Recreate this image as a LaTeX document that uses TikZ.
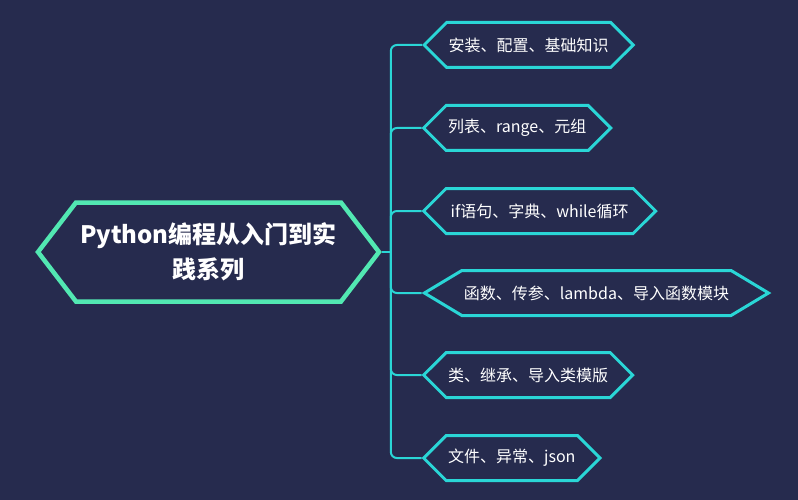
\documentclass[tikz,border=0pt]{standalone}
\usepackage{fontspec}
\usepackage{tikz}
\usetikzlibrary{shapes.symbols,positioning}
\newfontfamily\cjk{Noto Sans CJK SC}
\definecolor{navy}{RGB}{38,43,78}
\definecolor{mint}{RGB}{82,232,178}
\definecolor{aqua}{RGB}{42,214,214}

\begin{document}
\begin{tikzpicture}[x=1pt, y=-1pt,
    hexroot/.style={draw=mint, line width=4.5pt, fill=navy, shape=signal, signal to=west and east, signal pointer angle=105, minimum width=341pt, minimum height=99pt, inner sep=2pt, text=white, align=center, font=\cjk\bfseries\fontsize{24}{35}\selectfont},
    hexleaf/.style={draw=aqua, line width=3pt, fill=navy, shape=signal, signal to=west and east, signal pointer angle=90, minimum height=45pt, inner sep=2pt, text=white, font=\cjk\fontsize{16}{18}\selectfont, anchor=west},
    link/.style={draw=aqua, line width=2pt, rounded corners=6pt}]
    % Background
    \path[use as bounding box, fill=navy] (0,0) rectangle (798,500);

    % Root
    \node[hexroot] (root) at (208.5,252) {Python编程从入门到实\\践系列};

    % Branches
    \node[hexleaf, minimum width=205pt] (c1) at (422,45) {安装、配置、基础知识};
    \node[hexleaf, minimum width=183pt] (c2) at (421.5,128) {列表、range、元组};
    \node[hexleaf, minimum width=232pt] (c3) at (421.5,211) {if语句、字典、while循环};
    \node[hexleaf, minimum width=343pt, signal pointer angle=62] (c4) at (421.5,293) {函数、传参、lambda、导入函数模块};
    \node[hexleaf, minimum width=207pt] (c5) at (421.5,375) {类、继承、导入类模版};
    \node[hexleaf, minimum width=167pt] (c6) at (421.5,458) {文件、异常、json};

    % Connectors
    \coordinate (hub) at ([xshift=9pt]root.east);
    \draw[link] (root.east) -- (hub);
    \draw[link] (hub) |- (c1.west);
    \draw[link] (hub) |- (c2.west);
    \draw[link] (hub) |- (c3.west);
    \draw[link] (hub) |- (c4.west);
    \draw[link] (hub) |- (c5.west);
    \draw[link] (hub) |- (c6.west);
\end{tikzpicture}
\end{document}
